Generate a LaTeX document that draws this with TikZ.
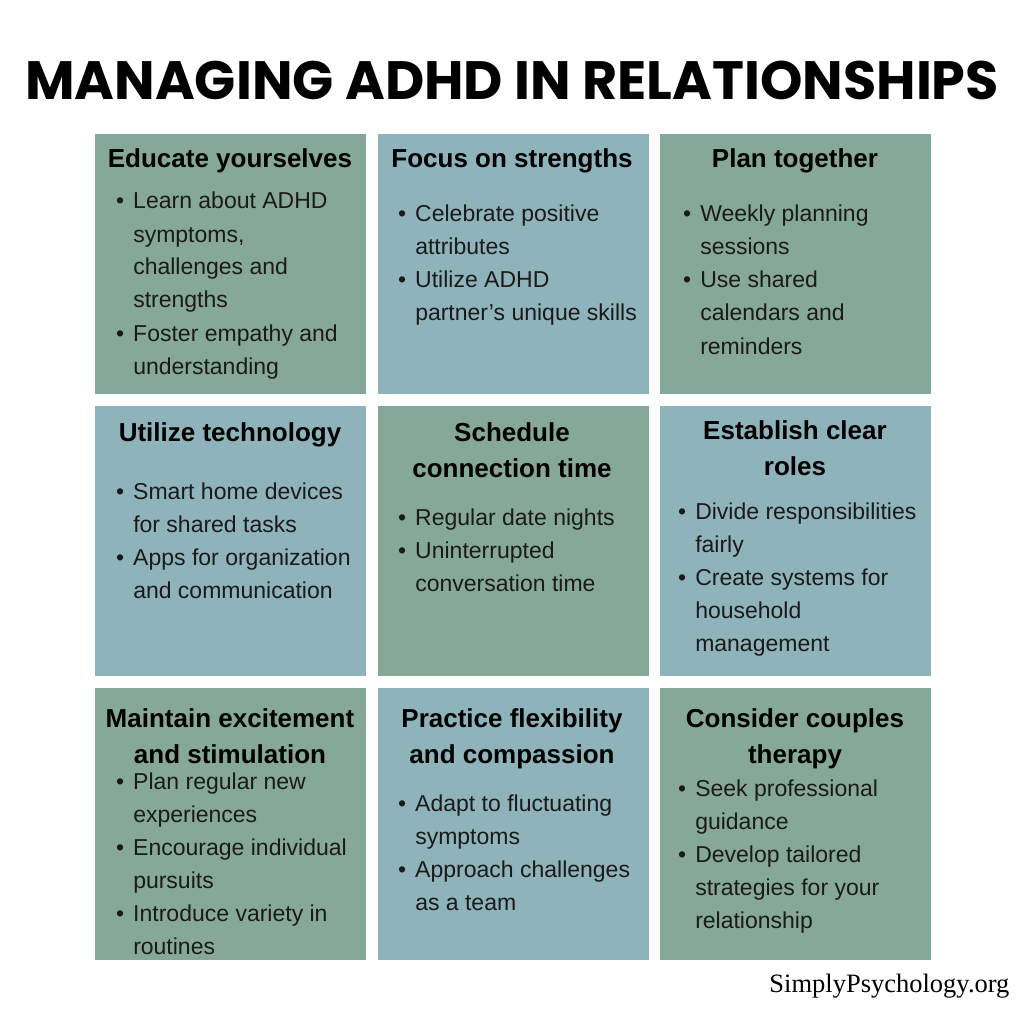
\documentclass[tikz,border=0pt]{standalone}
\usepackage{fontspec}
\setmainfont{Liberation Sans}
\newfontfamily\titlefont{Poppins Bold}
\newfontfamily\footfont{Liberation Serif}
\definecolor{cellgreen}{HTML}{86A898}
\definecolor{cellblue}{HTML}{8FB3BA}
\definecolor{inkgray}{HTML}{1A1A1A}
\tikzset{
  cell/.style={minimum width=271pt, minimum height=#1, inner sep=0pt, anchor=north west},
  cell/.default=260pt,
  head/.style={anchor=base, inner sep=0pt, font=\fontsize{26}{36}\selectfont\bfseries, text=black},
  body/.style={anchor=base west, inner sep=0pt, font=\fontsize{23}{33}\selectfont, text=inkgray}
}
\newcommand{\tb}[1]{\begin{tabular}[t]{@{}l@{\hspace{9pt}}l@{}}#1\end{tabular}}
\newcommand{\hd}[1]{\begin{tabular}[t]{@{}c@{}}#1\end{tabular}}
\begin{document}
\begin{tikzpicture}[x=1pt,y=-1pt]
\useasboundingbox (0,0) rectangle (1024,1024);
\fill[white] (0,0) rectangle (1024,1024);
\node[font=\titlefont\fontsize{54}{54}\selectfont, text=black] (title) at (512,80) {MANAGING ADHD IN RELATIONSHIPS};

% row 1
\node[cell, fill=cellgreen] (c11) at (95,134) {};
\node[cell, fill=cellblue] (c12) at (378,134) {};
\node[cell, fill=cellgreen] (c13) at (660,134) {};
\node[head] (h11) at (230,168) {\hd{Educate yourselves}};
\node[head] (h12) at (512,168) {\hd{Focus on strengths}};
\node[head] (h13) at (795,168) {\hd{Plan together}};
\node[body] (b11) at (116,209) {\tb{\textbullet & Learn about ADHD\\ & symptoms,\\ & challenges and\\ & strengths\\ \textbullet & Foster empathy and\\ & understanding}};
\node[body] (b12) at (398,222) {\tb{\textbullet & Celebrate positive\\ & attributes\\ \textbullet & Utilize ADHD\\ & partner’s unique skills}};
\node[body] (b13) at (683,222) {\tb{\textbullet & Weekly planning\\ & sessions\\ \textbullet & Use shared\\ & calendars and\\ & reminders}};

% row 2
\node[cell=270pt, fill=cellblue] (c21) at (95,406) {};
\node[cell=270pt, fill=cellgreen] (c22) at (378,406) {};
\node[cell=270pt, fill=cellblue] (c23) at (660,406) {};
\node[head] (h21) at (230,441) {\hd{Utilize technology}};
\node[head] (h22) at (512,441) {\hd{Schedule\\ connection time}};
\node[head] (h23) at (795,439) {\hd{Establish clear\\ roles}};
\node[body] (b21) at (116,499) {\tb{\textbullet & Smart home devices\\ & for shared tasks\\ \textbullet & Apps for organization\\ & and communication}};
\node[body] (b22) at (398,525) {\tb{\textbullet & Regular date nights\\ \textbullet & Uninterrupted\\ & conversation time}};
\node[body] (b23) at (678,519) {\tb{\textbullet & Divide responsibilities\\ & fairly\\ \textbullet & Create systems for\\ & household\\ & management}};

% row 3
\node[cell=272pt, fill=cellgreen] (c31) at (95,688) {};
\node[cell=272pt, fill=cellblue] (c32) at (378,688) {};
\node[cell=272pt, fill=cellgreen] (c33) at (660,688) {};
\node[head] (h31) at (230,727) {\hd{Maintain excitement\\ and stimulation}};
\node[head] (h32) at (512,727) {\hd{Practice flexibility\\ and compassion}};
\node[head] (h33) at (795,727) {\hd{Consider couples\\ therapy}};
\node[body] (b31) at (116,789) {\tb{\textbullet & Plan regular new\\ & experiences\\ \textbullet & Encourage individual\\ & pursuits\\ \textbullet & Introduce variety in\\ & routines}};
\node[body] (b32) at (398,811) {\tb{\textbullet & Adapt to fluctuating\\ & symptoms\\ \textbullet & Approach challenges\\ & as a team}};
\node[body] (b33) at (678,796) {\tb{\textbullet & Seek professional\\ & guidance\\ \textbullet & Develop tailored\\ & strategies for your\\ & relationship}};

\node[anchor=east, font=\footfont\fontsize{26.5}{26.5}\selectfont, text=black] (foot) at (1013,986) {SimplyPsychology.org};
\end{tikzpicture}
\end{document}
